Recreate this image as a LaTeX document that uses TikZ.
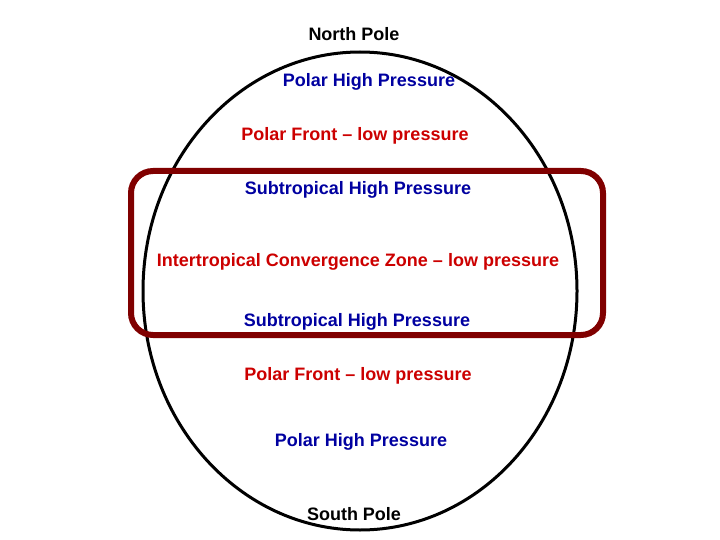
\documentclass[tikz,border=0pt]{standalone}
\usepackage{fontspec}
\setmainfont{Liberation Sans}
\begin{document}
\begin{tikzpicture}[x=1pt,y=-1pt,
  lbl/.style={font=\fontsize{18}{20}\selectfont\bfseries,inner sep=0pt},
  blu/.style={lbl,text={rgb,255:red,0;green,0;blue,160}},
  rd/.style={lbl,text={rgb,255:red,204;green,0;blue,0}}]
\useasboundingbox (0,0) rectangle (720,540);
\draw[line width=3pt] (360,291) ellipse [x radius=217, y radius=239];
\draw[line width=6pt,draw={rgb,255:red,128;green,0;blue,0},rounded corners=22pt] (131,171) rectangle (603,335);
\node[lbl] (np) at (354,34) {North Pole};
\node[blu] (ph1) at (369,82) {Polar High Pressure};
\node[rd] (pf1) at (355,136) {Polar Front -- low pressure};
\node[blu] (sh1) at (358,190) {Subtropical High Pressure};
\node[rd] (itcz) at (358,262) {Intertropical Convergence Zone -- low pressure};
\node[blu] (sh2) at (357,322) {Subtropical High Pressure};
\node[rd] (pf2) at (358,376) {Polar Front -- low pressure};
\node[blu] (ph2) at (361,442) {Polar High Pressure};
\node[lbl] (sp) at (354,514) {South Pole};
\end{tikzpicture}
\end{document}
